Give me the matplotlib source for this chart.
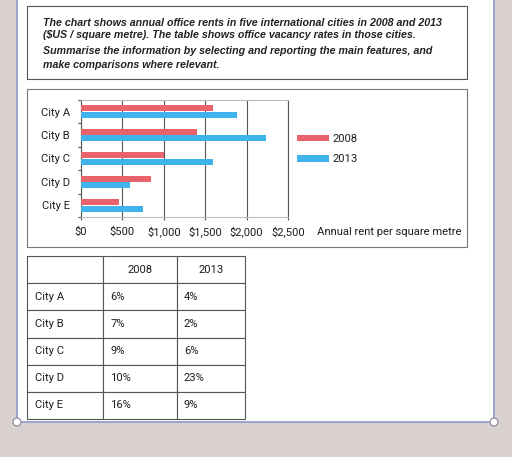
import matplotlib
matplotlib.use("Agg")
import matplotlib.pyplot as plt
from matplotlib.patches import Rectangle, Circle
import numpy as np

# data
cities = ["City A", "City B", "City C", "City D", "City E"]
rent_2008 = [1600, 1400, 1000, 850, 460]
rent_2013 = [1880, 2230, 1600, 590, 750]
x_ticks = [0, 500, 1000, 1500, 2000, 2500]
x_tick_labels = ["$0", "$500", "$1,000", "$1,500", "$2,000", "$2,500"]
vacancy_2008 = ["6%", "7%", "9%", "10%", "16%"]
vacancy_2013 = ["4%", "2%", "6%", "23%", "9%"]
task_lines = [
    "The chart shows annual office rents in five international cities in 2008 and 2013",
    "($US / square metre). The table shows office vacancy rates in those cities.",
    "Summarise the information by selecting and reporting the main features, and",
    "make comparisons where relevant.",
]

W, H = 512, 457
fam = "Roboto"
fs = 8.1
wt = "normal"
red = "#e8636c"
blue = "#3fb3ec"
txt = "#1e1e1e"

fig = plt.figure(figsize=(W / 100, H / 100), dpi=100)
fig.patch.set_facecolor("#d9d1d0")


def px_axes(l, t, r, b):
    return fig.add_axes([l / W, 1 - b / H, (r - l) / W, (b - t) / H])


# background / page
bg = px_axes(0, 0, W, H)
bg.set_xlim(0, W)
bg.set_ylim(H, 0)
bg.axis("off")
bg.add_patch(Rectangle((17, -5), 477, 427, facecolor="white", edgecolor="#8e98cc", lw=1.2))
for cx in (17, 494):
    bg.add_patch(Circle((cx, 422), 4, facecolor="white", edgecolor="#8e8e9e", lw=0.9, zorder=5))

# task box
bg.add_patch(Rectangle((27, 6), 440, 73, facecolor="none", edgecolor="#555555", lw=0.8))
for yy, line in zip([22.5, 35.5, 51.5, 64.5], task_lines):
    bg.text(43, yy, line, fontsize=7.65, fontweight="bold", fontstyle="italic",
            family="Liberation Sans", color="#222222", va="center", ha="left")

# chart box
bg.add_patch(Rectangle((27, 89), 440, 158, facecolor="none", edgecolor="#777777", lw=0.8))

# bar chart
ax = px_axes(81, 100, 288, 217)
y = np.arange(len(cities))
h = 0.26
ax.barh(y - 0.14, rent_2008, height=h, color=red, label="2008", zorder=3)
ax.barh(y + 0.14, rent_2013, height=h, color=blue, label="2013", zorder=3)
ax.set_xlim(0, 2500)
ax.set_ylim(len(cities) - 0.5, -0.5)
ax.set_xticks(x_ticks)
ax.set_xticklabels(x_tick_labels, family=fam, fontsize=fs, fontweight=wt, color=txt)
ax.set_yticks(y)
ax.set_yticklabels(cities, family=fam, fontsize=fs, fontweight=wt, color=txt)
ax.set_yticks(np.arange(-0.5, len(cities)), minor=True)
ax.tick_params(axis="y", which="major", length=0, pad=8)
ax.tick_params(axis="y", which="minor", length=2.5, color="#555555", width=0.8)
ax.tick_params(axis="x", length=2.5, color="#555555", width=0.8, pad=4.5)
ax.grid(axis="x", color="#555555", lw=0.8, zorder=0)
for s in ["top", "bottom"]:
    ax.spines[s].set_color("#bbbbbb")
    ax.spines[s].set_linewidth(0.8)
for s in ["left", "right"]:
    ax.spines[s].set_color("#555555")
    ax.spines[s].set_linewidth(0.8)

leg = ax.legend(loc="upper left", bbox_to_anchor=(297 / W, 1 - 134 / H),
                bbox_transform=fig.transFigure, frameon=False, borderpad=0,
                borderaxespad=0, handlelength=2.8, handleheight=0.55,
                handletextpad=0.35, labelspacing=0.9,
                prop={"family": fam, "size": fs, "weight": wt})
for t in leg.get_texts():
    t.set_color(txt)

bg.text(317, 232, "Annual rent per square metre", family=fam, fontsize=fs,
        fontweight=wt, color=txt, va="center", ha="left")

# vacancy table
tax = px_axes(27, 256, 245, 419)
tax.axis("off")
cell_text = [[c, a, b] for c, a, b in zip(cities, vacancy_2008, vacancy_2013)]
tbl = tax.table(cellText=cell_text, colLabels=["", "2008", "2013"],
                colWidths=[76, 74, 68], cellLoc="left", bbox=[0, 0, 1, 1])
tbl.auto_set_font_size(False)
for (r, c), cell in tbl.get_celld().items():
    cell.set_edgecolor("#555555")
    cell.set_linewidth(0.8)
    cell.get_text().set_fontsize(fs)
    cell.get_text().set_family(fam)
    cell.get_text().set_fontweight(wt)
    cell.get_text().set_color(txt)

fig.savefig("out.png", dpi=100, facecolor=fig.get_facecolor())
